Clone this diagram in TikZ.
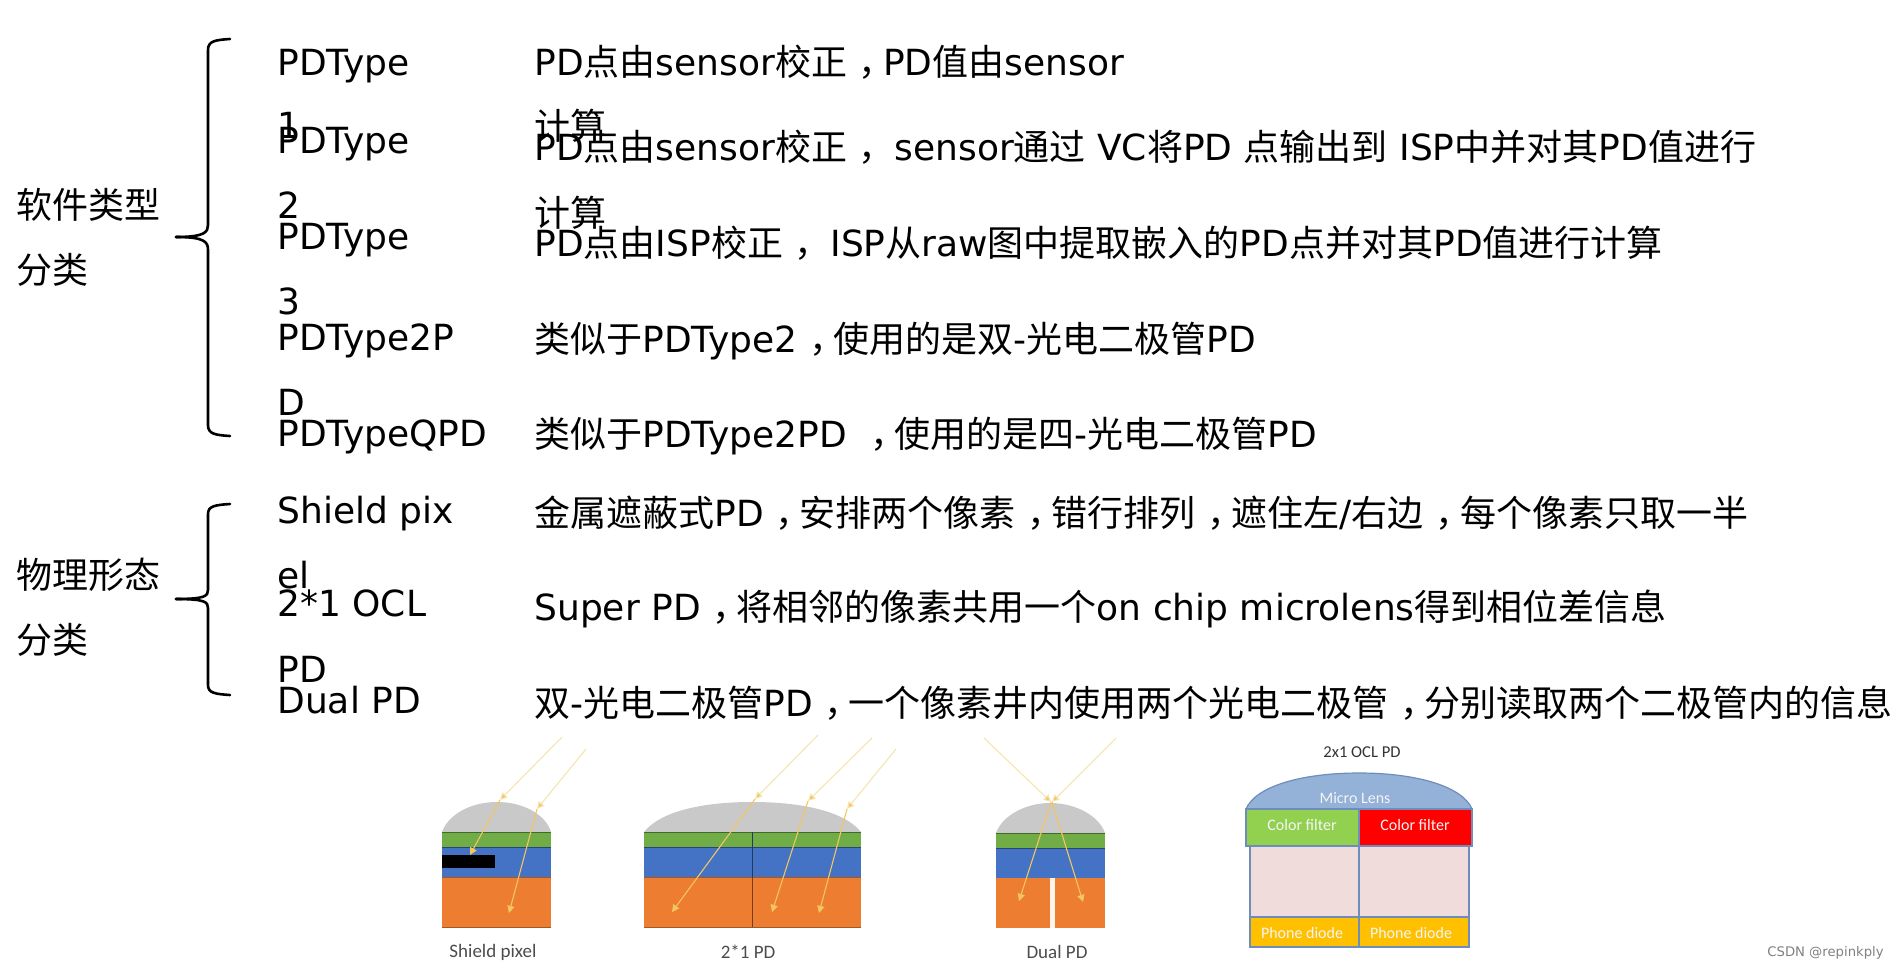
\documentclass[tikz,border=0pt]{standalone}
\usepackage{fontspec}
\usetikzlibrary{arrows.meta}
\setmainfont{DejaVu Sans}
\newfontfamily\cjk{Noto Sans CJK SC}
\newfontfamily\cali{Carlito}
\newcommand{\zh}[1]{{\cjk #1}}
\newcommand{\cm}{\makebox[1em][l]{\hspace{0.33em}{\cjk ，}}}
\definecolor{lens}{HTML}{C9C9C9}
\definecolor{grn}{HTML}{70AD47}
\definecolor{blu}{HTML}{4472C4}
\definecolor{org}{HTML}{ED7D31}
\definecolor{rayA}{HTML}{F5E4B0}
\definecolor{rayB}{HTML}{F2C660}
\definecolor{edge}{HTML}{6E8DBC}
\definecolor{lensb}{HTML}{94B1D7}
\definecolor{pinkc}{HTML}{F0DCDB}
\definecolor{fg}{HTML}{92D050}
\definecolor{pd}{HTML}{FFC000}
\tikzset{
  x=0.5pt,y=-0.5pt,
  big/.style={anchor=base west,inner sep=0pt,font=\fontsize{18}{20}\selectfont,text=black},
  captxt/.style={anchor=center,inner sep=0pt,font=\cali\fontsize{9.5}{11}\selectfont,text=black!70},
  captop/.style={anchor=center,inner sep=0pt,font=\cali\fontsize{8.3}{10}\selectfont,text=black!80},
  wht/.style={anchor=center,inner sep=0pt,font=\cali\fontsize{8}{10}\selectfont,text=white!92!gray},
  bracex/.style={draw=black,line width=1.3pt,line cap=round},
  raya/.style={draw=rayA,line width=0.55pt,-{Triangle[length=3.6pt,width=3.6pt,fill=rayB]}},
  rayb/.style={draw=rayB,line width=0.55pt,-{Triangle[length=3.6pt,width=3.6pt,fill=rayB]}},
  layer/.style={line width=0.35pt},
  cell/.style={draw=edge,line width=0.6pt},
}
\begin{document}
\begin{tikzpicture}
\useasboundingbox (0,0) rectangle (1898,969);
% braces
\draw[bracex] (230,39) .. controls (215,40) and (208,41) .. (208,50) -- (208,225) .. controls (208,232) and (205,237) .. (176,237);
\draw[bracex] (176,237) .. controls (205,237) and (208,242) .. (208,250) -- (208,425) .. controls (208,434) and (215,435) .. (230,436);
\draw[bracex] (230,504) .. controls (215,505) and (208,506) .. (208,514) -- (208,590) .. controls (208,596) and (205,599) .. (176,599);
\draw[bracex] (176,599) .. controls (205,599) and (208,602) .. (208,608) -- (208,685) .. controls (208,693) and (215,694) .. (230,695);
% left labels
\node[big] (l1) at (16,218) {\zh{软件类型}};
\node[big] (l2) at (16,283) {\zh{分类}};
\node[big] (l3) at (16,588) {\zh{物理形态}};
\node[big] (l4) at (16,653) {\zh{分类}};
% middle column
\node[big] (m1) at (277,75) {PDType};
\node[big] (m1b) at (277,138) {1};
\node[big] (m2) at (277,153) {PDType};
\node[big] (m2b) at (277,218) {2};
\node[big] (m3) at (277,249) {PDType};
\node[big] (m3b) at (277,314) {3};
\node[big] (m4) at (277,350) {PDType2P};
\node[big] (m4b) at (277,415) {D};
\node[big] (m5) at (277,446) {PDTypeQPD};
\node[big] (m6) at (277,523) {Shield pix};
\node[big] (m6b) at (277,588) {el};
\node[big] (m7) at (277,616) {2*1 OCL};
\node[big] (m7b) at (277,682) {PD};
\node[big] (m8) at (277,713) {Dual PD};
% right column
\node[big] (r1) at (534,75) {PD\zh{点由}sensor\zh{校正\cm}PD\zh{值由}sensor};
\node[big] (r1b) at (534,139) {\zh{计算}};
\node[big] (r2) at (534,160) {PD\zh{点由}sensor\zh{校正\cm} sensor\zh{通过} VC\zh{将}PD \zh{点输出到} ISP\zh{中并对其}PD\zh{值进行}};
\node[big] (r2b) at (534,226) {\zh{计算}};
\node[big] (r3) at (534,256) {PD\zh{点由}ISP\zh{校正\cm} ISP\zh{从}raw\zh{图中提取嵌入的}PD\zh{点并对其}PD\zh{值进行计算}};
\node[big] (r4) at (534,352) {\zh{类似于}PDType2\zh{\cm 使用的是双}-\zh{光电二极管}PD};
\node[big] (r5) at (534,447) {\zh{类似于}PDType2PD \zh{\cm 使用的是四}-\zh{光电二极管}PD};
\node[big] (r6) at (534,526) {\zh{金属遮蔽式}PD\zh{\cm 安排两个像素\cm 错行排列\cm 遮住左}/\zh{右边\cm 每个像素只取一半}};
\node[big] (r7) at (534,620) {Super PD\zh{\cm 将相邻的像素共用一个}on chip microlens\zh{得到相位差信息}};
\node[big] (r8) at (534,716) {\zh{双}-\zh{光电二极管}PD\zh{\cm 一个像素井内使用两个光电二极管\cm 分别读取两个二极管内的信息}};
% Shield pixel
\fill[lens] (442,832) .. controls (448,815) and (470,802) .. (497,802) .. controls (524,802) and (546,815) .. (551,832) -- cycle;
\fill[grn] (442,832) rectangle (551,847);
\fill[blu] (442,847) rectangle (551,877);
\fill[org] (442,877) rectangle (551,927);
\draw[layer,draw=black!40!grn] (442,832) -- (551,832);
\draw[layer,draw=black!40!blu] (442,847) -- (551,847);
\draw[layer,draw=black!30!org] (442,877) -- (551,877) (442,927) -- (551,927);
\fill[black] (442,855) rectangle (495,868);
\coordinate (s1a) at (562,737); \coordinate (s1b) at (500,800); \coordinate (s1c) at (470,855);
\coordinate (s2a) at (586,749); \coordinate (s2b) at (537,809); \coordinate (s2c) at (509,913);
\draw[raya] (s1a) -- (s1b); \draw[rayb] (s1b) -- (s1c);
\draw[raya] (s2a) -- (s2b); \draw[rayb] (s2b) -- (s2c);
\node[captxt] (c1) at (493,952) {Shield pixel};
% 2*1 PD
\fill[lens] (644,832) .. controls (660,812) and (700,802) .. (752,802) .. controls (804,802) and (845,812) .. (861,832) -- cycle;
\fill[grn] (644,832) rectangle (861,847);
\fill[blu] (644,847) rectangle (861,877);
\fill[org] (644,877) rectangle (861,927);
\draw[layer,draw=black!40!grn] (644,832) -- (861,832);
\draw[layer,draw=black!40!blu] (644,847) -- (861,847);
\draw[layer,draw=black!30!org] (644,877) -- (861,877) (644,927) -- (861,927);
\draw[layer,draw=black!50!blu] (752,832) -- (752,877);
\draw[layer,draw=black!50!org] (752,877) -- (752,927);
\coordinate (d1a) at (818,735); \coordinate (d1b) at (755,799); \coordinate (d1c) at (672,912);
\coordinate (d2a) at (872,738); \coordinate (d2b) at (808,801); \coordinate (d2c) at (772,912);
\coordinate (d3a) at (896,749); \coordinate (d3b) at (847,809); \coordinate (d3c) at (819,913);
\draw[raya] (d1a) -- (d1b); \draw[rayb] (d1b) -- (d1c);
\draw[raya] (d2a) -- (d2b); \draw[rayb] (d2b) -- (d2c);
\draw[raya] (d3a) -- (d3b); \draw[rayb] (d3b) -- (d3c);
\node[captxt] (c2) at (748,952) {2*1 PD};
% Dual PD
\fill[lens] (996,833) .. controls (1002,816) and (1025,803) .. (1050,803) .. controls (1076,803) and (1099,816) .. (1105,833) -- cycle;
\fill[grn] (996,833) rectangle (1105,848);
\fill[blu] (996,848) rectangle (1105,878);
\fill[org] (996,878) rectangle (1105,928);
\fill[white!92!orange] (1050,878) rectangle (1055,928);
\draw[layer,draw=black!40!grn] (996,833) -- (1105,833);
\draw[layer,draw=black!40!blu] (996,848) -- (1105,848);
\coordinate (u1a) at (984,738); \coordinate (u1b) at (1051,802); \coordinate (u1c) at (1019,901);
\coordinate (u2a) at (1116,738); \coordinate (u2b) at (1052,802); \coordinate (u2c) at (1083,902);
\draw[raya] (u1a) -- (u1b); \draw[rayb] (u1b) -- (u1c);
\draw[raya] (u2a) -- (u2b); \draw[rayb] (u2b) -- (u2c);
\node[captxt] (c3) at (1057,952) {Dual PD};
% 2x1 OCL PD
\node[captop] (c4) at (1362,752) {2x1 OCL PD};
\draw[cell,fill=lensb] (1246,809) .. controls (1255,787) and (1300,773) .. (1359,773) .. controls (1418,773) and (1463,787) .. (1472,809) -- cycle;
\draw[cell,fill=pinkc] (1250,846) rectangle (1359,917);
\draw[cell,fill=pinkc] (1359,846) rectangle (1469,917);
\draw[cell,fill=fg] (1246,809) rectangle (1359,846);
\draw[cell,fill=red] (1359,809) rectangle (1472,846);
\draw[cell,fill=pd] (1250,917) rectangle (1359,947);
\draw[cell,fill=pd] (1359,917) rectangle (1469,947);
\node[wht] (w0) at (1355,798) {Micro Lens};
\node[wht] (w1) at (1302,825) {Color filter};
\node[wht] (w2) at (1415,825) {Color filter};
\node[wht] (w3) at (1302,933) {Phone diode};
\node[wht] (w4) at (1411,933) {Phone diode};
\node[anchor=east,inner sep=0pt,font=\fontsize{6.6}{8}\selectfont,text=black!50] (wm) at (1884,953) {CSDN @repinkply};
\end{tikzpicture}
\end{document}
